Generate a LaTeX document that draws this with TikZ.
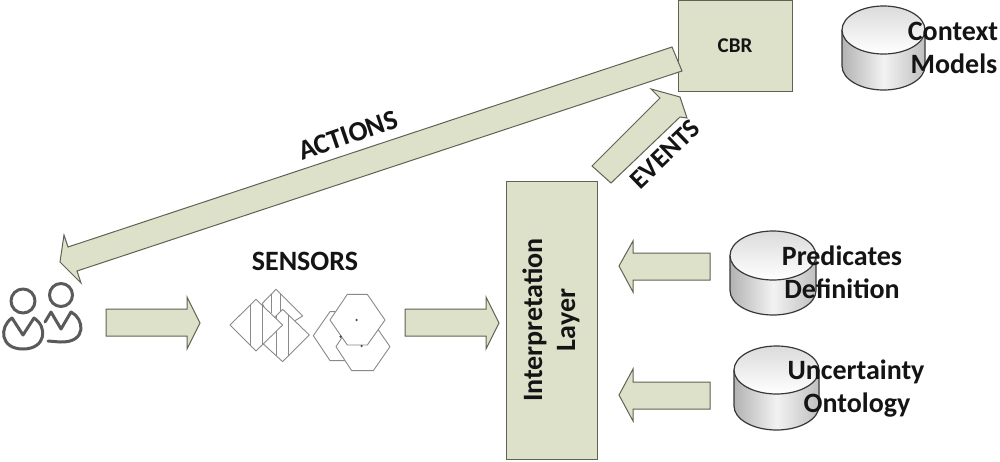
\documentclass[tikz,border=0pt]{standalone}
\usepackage{fontspec}
\setmainfont{Carlito}
\definecolor{boxfill}{HTML}{DDE1C9}
\definecolor{boxline}{HTML}{5F6352}
\definecolor{iconline}{HTML}{5A5A5A}
\definecolor{sensorline}{HTML}{8A8A8A}
\tikzset{
  block/.style={draw=boxline,fill=boxfill,line width=1pt,line join=miter},
  lbl/.style={font=\bfseries\fontsize{#1}{#1}\selectfont,inner sep=0pt,text=black!92},
  lbl/.default=24,
  cyl/.style={draw=black!78,line width=1.2pt},
  person/.style={draw=iconline,line width=3pt,line cap=round,line join=round},
  sens/.style={draw=sensorline,line width=0.9pt,fill=white,line join=round},
  sensin/.style={draw=sensorline,line width=0.9pt},
}
\newcommand{\dbcyl}[5]{% left, right, top, ellipse bottom, bottom
  \pgfmathsetmacro{\cx}{(#1+#2)/2}\pgfmathsetmacro{\rx}{(#2-#1)/2}
  \pgfmathsetmacro{\ry}{(#4-#3)/2}\pgfmathsetmacro{\cy}{(#3+#4)/2}
  \pgfmathsetmacro{\by}{#5-\ry}
  \path[left color=black!30,right color=black!25,middle color=black!5]
    (#1,\cy) -- (#1,\by) arc[start angle=180,end angle=360,x radius=\rx,y radius=-\ry] -- (#2,\cy) -- cycle;
  \draw[cyl] (#1,\cy) -- (#1,\by) arc[start angle=180,end angle=360,x radius=\rx,y radius=\ry*-1] -- (#2,\cy);
  \draw[cyl,top color=black!14,bottom color=white] (\cx,\cy) ellipse[x radius=\rx,y radius=\ry];
}
\begin{document}
\begin{tikzpicture}[x=1pt,y=-1pt]
\useasboundingbox (0,0) rectangle (1000,461);
\fill[white] (0,0) rectangle (1000,461);

% boxes
\node[block,minimum width=114pt,minimum height=91pt,inner sep=0pt,anchor=north west] (cbr) at (678,0) {};
\node[lbl=21] (cbrlabel) at (735,46) {CBR};
\node[block,minimum width=91pt,minimum height=278pt,inner sep=0pt,anchor=north west] (layer) at (506,181) {};
\node[lbl=28,rotate=90,align=center] (layerlabel) at (551,320) {Interpretation\\[5pt]Layer};

% block arrows
\draw[block] (672,47) -- (682,71) -- (77,271) -- (81,283) -- (60,262) -- (64,235) -- (68,247) -- cycle;
\draw[block] (592,166) -- (611,183) -- (680,117) -- (687,118) -- (680,97) -- (651,89) -- (660,98) -- cycle;
\draw[block] (106,309) -- (187,309) -- (187,297) -- (200,323) -- (187,349) -- (187,336) -- (106,336) -- cycle;
\draw[block] (405,309) -- (486,309) -- (486,297) -- (499,323) -- (486,349) -- (486,336) -- (405,336) -- cycle;
\draw[block] (710,253) -- (633,253) -- (633,241) -- (619,266) -- (633,292) -- (633,280) -- (710,280) -- cycle;
\draw[block] (710,382) -- (633,382) -- (633,369) -- (619,395) -- (633,421) -- (633,409) -- (710,409) -- cycle;

% arrow labels
\node[lbl=28,rotate=19] (actions) at (348,135) {ACTIONS};
\node[lbl=27,rotate=44] (events) at (665,154) {EVENTS};
\node[lbl=28] (sensors) at (305,261) {SENSORS};

% cylinders
\dbcyl{842}{925}{6}{54}{90}
\dbcyl{730}{816}{231}{280}{315}
\dbcyl{734}{819}{346}{394}{430}
\node[lbl=28] (context) at (953,31) {Context};
\node[lbl=28] (models) at (954,64) {Models};
\node[lbl=28] (pred) at (842,256) {Predicates};
\node[lbl=28] (defn) at (842,289) {Definition};
\node[lbl=28] (uncert) at (856,372) {Uncertainty};
\node[lbl=28] (onto) at (857,405) {Ontology};

% people
\draw[person] (23,301) circle[radius=12];
\draw[person] (61,295) circle[radius=11.5];
\draw[person] (23,335) -- (12,318) .. controls (-1,327) and (0,349) .. (23,349)
   .. controls (46,349) and (48,327) .. (34,318) -- cycle;
\draw[person] (45,322) -- (51,312) -- (61,329) -- (71,312)
   .. controls (84,318) and (88,343) .. (60,342) -- (48,341);

% sensors
\begin{scope}[shift={(210,270)},x=0.3333pt,y=-0.3333pt]
  \draw[sens] (157,100) -- (198,58) -- (278,138) -- (250,155) -- (200,200) -- cycle;
  \draw[sensin] (183,73) -- (183,130) (210,70) -- (210,125);
  \draw[sens] (218,118) -- (298,195) -- (218,275) -- (160,222) -- (138,197) -- cycle;
  \draw[sensin] (200,136) -- (200,258) (235,134) -- (235,258);
  \draw[sens] (60,165) -- (138,88) -- (218,165) -- (138,243) -- cycle;
  \draw[sensin] (120,106) -- (120,225) (157,106) -- (157,225);
  \draw[sens] (310,197) -- (360,125) -- (375,125) -- (440,197) -- (410,272) -- (360,272) -- cycle;
  \draw[sens] (378,230) -- (425,158) -- (490,158) -- (540,230) -- (490,302) -- (425,302) -- cycle;
  \draw[sens] (360,150) -- (412,73) -- (472,73) -- (525,150) -- (472,225) -- (412,225) -- cycle;
  \fill[black!70] (440,150) circle[radius=4] (392,200) circle[radius=4] (455,228) circle[radius=4];
\end{scope}
\end{tikzpicture}
\end{document}
